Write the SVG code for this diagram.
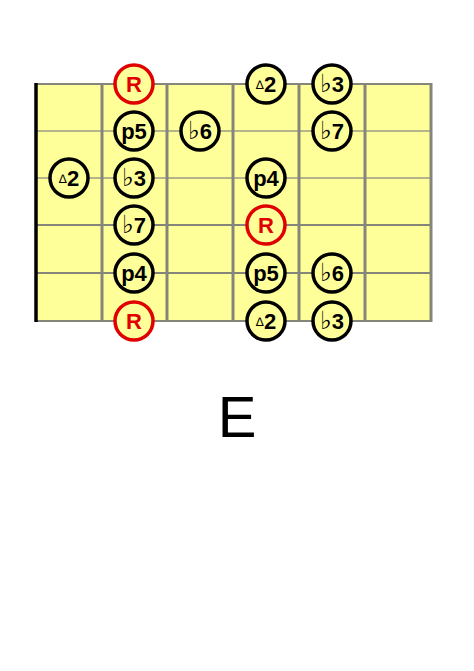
<svg xmlns="http://www.w3.org/2000/svg" width="474" height="671" viewBox="0 0 474 671">
<style>
.board{fill:#ffff99}
.fret{stroke:#85857a;stroke-width:3}
.str{stroke:#6b6b80}
.n circle{fill:#ffff99;stroke:#000;stroke-width:3.5}
.n.r circle{stroke:#e00000}
.n text{font-family:"Liberation Sans","DejaVu Sans",sans-serif;font-size:22px;font-weight:bold;text-anchor:middle;fill:#000}
.n.r text{fill:#e00000}
.sym{font-family:"DejaVu Sans",sans-serif;font-weight:normal;font-size:25px}
.tri{font-family:"DejaVu Sans",sans-serif;font-weight:normal;font-size:12px}
.key{font-family:"Liberation Sans",Arial,sans-serif;font-size:58px;text-anchor:middle;fill:#000}
</style>
<rect width="474" height="671" fill="#fff"/>
<g id="board">
<rect class="board" x="36" y="84" width="396" height="237"/>
<g id="strings">
<line class="str" x1="36" y1="84" x2="432" y2="84" stroke-width="2" style="stroke:#85857a"/>
<line class="str" x1="36" y1="131" x2="432" y2="131" stroke-width="1"/>
<line class="str" x1="36" y1="178" x2="432" y2="178" stroke-width="1"/>
<line class="str" x1="36" y1="225" x2="432" y2="225" stroke-width="2" style="stroke:#85857a"/>
<line class="str" x1="36" y1="273" x2="432" y2="273" stroke-width="2" style="stroke:#85857a"/>
<line class="str" x1="36" y1="321" x2="432" y2="321" stroke-width="2" style="stroke:#85857a"/>
</g>
<g id="frets">
<line class="fret" x1="102" y1="84" x2="102" y2="321"/>
<line class="fret" x1="167" y1="84" x2="167" y2="321"/>
<line class="fret" x1="233" y1="84" x2="233" y2="321"/>
<line class="fret" x1="299" y1="84" x2="299" y2="321"/>
<line class="fret" x1="365" y1="84" x2="365" y2="321"/>
<line class="fret" x1="431" y1="83" x2="431" y2="322"/>
<line x1="36" y1="83" x2="36" y2="322" stroke="#000" stroke-width="3.5"/>
</g>
</g>
<g id="notes">
<g id="n1" class="n r"><circle cx="134" cy="84" r="19"/><text x="134" y="92">R</text></g>
<g id="n2" class="n"><circle cx="266" cy="84" r="19"/><text x="266" y="92"><tspan class="tri" dy="-3">∆</tspan><tspan dy="3">2</tspan></text></g>
<g id="n3" class="n"><circle cx="332" cy="84" r="19"/><text x="332" y="92"><tspan class="sym">♭</tspan>3</text></g>
<g id="n4" class="n"><circle cx="134" cy="131" r="19"/><text x="134" y="139">p5</text></g>
<g id="n5" class="n"><circle cx="200" cy="131" r="19"/><text x="200" y="139"><tspan class="sym">♭</tspan>6</text></g>
<g id="n6" class="n"><circle cx="332" cy="131" r="19"/><text x="332" y="139"><tspan class="sym">♭</tspan>7</text></g>
<g id="n7" class="n"><circle cx="69" cy="178" r="19"/><text x="69" y="186"><tspan class="tri" dy="-3">∆</tspan><tspan dy="3">2</tspan></text></g>
<g id="n8" class="n"><circle cx="134" cy="178" r="19"/><text x="134" y="186"><tspan class="sym">♭</tspan>3</text></g>
<g id="n9" class="n"><circle cx="266" cy="178" r="19"/><text x="266" y="186">p4</text></g>
<g id="n10" class="n"><circle cx="134" cy="225" r="19"/><text x="134" y="233"><tspan class="sym">♭</tspan>7</text></g>
<g id="n11" class="n r"><circle cx="266" cy="225" r="19"/><text x="266" y="233">R</text></g>
<g id="n12" class="n"><circle cx="134" cy="273" r="19"/><text x="134" y="281">p4</text></g>
<g id="n13" class="n"><circle cx="266" cy="273" r="19"/><text x="266" y="281">p5</text></g>
<g id="n14" class="n"><circle cx="332" cy="273" r="19"/><text x="332" y="281"><tspan class="sym">♭</tspan>6</text></g>
<g id="n15" class="n r"><circle cx="134" cy="321" r="19"/><text x="134" y="329">R</text></g>
<g id="n16" class="n"><circle cx="266" cy="321" r="19"/><text x="266" y="329"><tspan class="tri" dy="-3">∆</tspan><tspan dy="3">2</tspan></text></g>
<g id="n17" class="n"><circle cx="332" cy="321" r="19"/><text x="332" y="329"><tspan class="sym">♭</tspan>3</text></g>
</g>
<text class="key" x="237" y="437">E</text>
</svg>
